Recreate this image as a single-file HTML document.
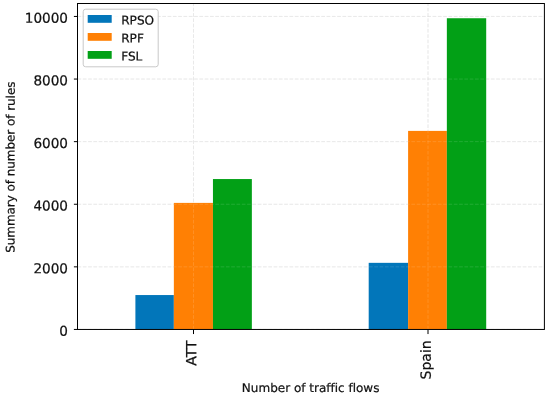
<!DOCTYPE html><html><head><meta charset="utf-8"><title>chart</title><style>html,body{margin:0;padding:0;background:#fff}svg{display:block}text{font-family:"DejaVu Sans","Liberation Sans",sans-serif;fill:#111;stroke:#111;stroke-width:0.22px;font-variant-ligatures:none;font-feature-settings:"liga" 0,"clig" 0}</style></head><body>
<svg width="550" height="398" viewBox="0 0 550 398">
<rect x="0" y="0" width="550" height="398" fill="#fff"/>
<line x1="77.5" x2="544.4" y1="329.45" y2="329.45" stroke="#b0b0b0" stroke-opacity="0.32" stroke-width="1" stroke-dasharray="3.7 1.6"/>
<line x1="77.5" x2="544.4" y1="266.85" y2="266.85" stroke="#b0b0b0" stroke-opacity="0.32" stroke-width="1" stroke-dasharray="3.7 1.6"/>
<line x1="77.5" x2="544.4" y1="204.25" y2="204.25" stroke="#b0b0b0" stroke-opacity="0.32" stroke-width="1" stroke-dasharray="3.7 1.6"/>
<line x1="77.5" x2="544.4" y1="141.65" y2="141.65" stroke="#b0b0b0" stroke-opacity="0.32" stroke-width="1" stroke-dasharray="3.7 1.6"/>
<line x1="77.5" x2="544.4" y1="79.05" y2="79.05" stroke="#b0b0b0" stroke-opacity="0.32" stroke-width="1" stroke-dasharray="3.7 1.6"/>
<line x1="77.5" x2="544.4" y1="16.45" y2="16.45" stroke="#b0b0b0" stroke-opacity="0.32" stroke-width="1" stroke-dasharray="3.7 1.6"/>
<line x1="193.50" x2="193.50" y1="329.45" y2="3.5" stroke="#b0b0b0" stroke-opacity="0.32" stroke-width="1" stroke-dasharray="3.7 1.6"/>
<line x1="428.00" x2="428.00" y1="329.45" y2="3.5" stroke="#b0b0b0" stroke-opacity="0.32" stroke-width="1" stroke-dasharray="3.7 1.6"/>
<rect x="135.40" y="295.05" width="38.45" height="34.40" fill="#0276ba"/>
<rect x="173.85" y="202.90" width="39.10" height="126.55" fill="#ff8004"/>
<rect x="212.95" y="179.05" width="38.90" height="150.40" fill="#02a016"/>
<rect x="368.70" y="262.84" width="39.40" height="66.61" fill="#0276ba"/>
<rect x="408.10" y="130.90" width="38.75" height="198.55" fill="#ff8004"/>
<rect x="446.85" y="18.24" width="39.35" height="311.21" fill="#02a016"/>
<line x1="77.5" x2="544.4" y1="329.45" y2="329.45" stroke="#ffffff" stroke-opacity="0.13" stroke-width="1" stroke-dasharray="3.7 1.6"/>
<line x1="77.5" x2="544.4" y1="266.85" y2="266.85" stroke="#ffffff" stroke-opacity="0.13" stroke-width="1" stroke-dasharray="3.7 1.6"/>
<line x1="77.5" x2="544.4" y1="204.25" y2="204.25" stroke="#ffffff" stroke-opacity="0.13" stroke-width="1" stroke-dasharray="3.7 1.6"/>
<line x1="77.5" x2="544.4" y1="141.65" y2="141.65" stroke="#ffffff" stroke-opacity="0.13" stroke-width="1" stroke-dasharray="3.7 1.6"/>
<line x1="77.5" x2="544.4" y1="79.05" y2="79.05" stroke="#ffffff" stroke-opacity="0.13" stroke-width="1" stroke-dasharray="3.7 1.6"/>
<line x1="77.5" x2="544.4" y1="16.45" y2="16.45" stroke="#ffffff" stroke-opacity="0.13" stroke-width="1" stroke-dasharray="3.7 1.6"/>
<line x1="193.50" x2="193.50" y1="329.45" y2="3.5" stroke="#ffffff" stroke-opacity="0.13" stroke-width="1" stroke-dasharray="3.7 1.6"/>
<line x1="428.00" x2="428.00" y1="329.45" y2="3.5" stroke="#ffffff" stroke-opacity="0.13" stroke-width="1" stroke-dasharray="3.7 1.6"/>
<rect x="77.5" y="3.5" width="466.9" height="325.95" fill="none" stroke="#000" stroke-width="1"/>
<line x1="73.90" x2="77.5" y1="329.45" y2="329.45" stroke="#000" stroke-width="1"/>
<text transform="translate(68.00,335.75) rotate(0.03)" font-size="13.6" text-anchor="end">0</text>
<line x1="73.90" x2="77.5" y1="266.85" y2="266.85" stroke="#000" stroke-width="1"/>
<text transform="translate(68.00,273.15) rotate(0.03)" font-size="13.6" text-anchor="end">2000</text>
<line x1="73.90" x2="77.5" y1="204.25" y2="204.25" stroke="#000" stroke-width="1"/>
<text transform="translate(68.00,210.55) rotate(0.03)" font-size="13.6" text-anchor="end">4000</text>
<line x1="73.90" x2="77.5" y1="141.65" y2="141.65" stroke="#000" stroke-width="1"/>
<text transform="translate(68.00,147.95) rotate(0.03)" font-size="13.6" text-anchor="end">6000</text>
<line x1="73.90" x2="77.5" y1="79.05" y2="79.05" stroke="#000" stroke-width="1"/>
<text transform="translate(68.00,85.35) rotate(0.03)" font-size="13.6" text-anchor="end">8000</text>
<line x1="73.90" x2="77.5" y1="16.45" y2="16.45" stroke="#000" stroke-width="1"/>
<text transform="translate(68.00,22.75) rotate(0.03)" font-size="13.6" text-anchor="end">10000</text>
<line x1="193.50" x2="193.50" y1="329.45" y2="334.05" stroke="#000" stroke-width="1"/>
<text transform="translate(196.20,340.35) rotate(-89.97)" font-size="14.0" text-anchor="end">ATT</text>
<line x1="428.00" x2="428.00" y1="329.45" y2="334.05" stroke="#000" stroke-width="1"/>
<text transform="translate(430.70,340.35) rotate(-89.97)" font-size="14.0" text-anchor="end">Spain</text>
<text transform="translate(310.65,392.0) rotate(0.03)" font-size="12.0" text-anchor="middle">Number of traffic flows</text>
<text transform="translate(14.6,167.17) rotate(-89.97)" font-size="11.9" text-anchor="middle">Summary of number of rules</text>
<rect x="83.2" y="9.2" width="75.0" height="57.6" rx="2.5" fill="#fff" fill-opacity="0.8" stroke="#c6c6c6" stroke-opacity="0.95" stroke-width="1"/>
<rect x="87.7" y="15.00" width="24" height="7.8" fill="#0276ba"/>
<text transform="translate(121.2,24.60) rotate(0.03)" font-size="12.1">RPSO</text>
<rect x="87.7" y="33.00" width="24" height="7.8" fill="#ff8004"/>
<text transform="translate(121.2,42.60) rotate(0.03)" font-size="12.1">RPF</text>
<rect x="87.7" y="51.00" width="24" height="7.8" fill="#02a016"/>
<text transform="translate(121.2,60.60) rotate(0.03)" font-size="12.1">FSL</text>
</svg></body></html>
